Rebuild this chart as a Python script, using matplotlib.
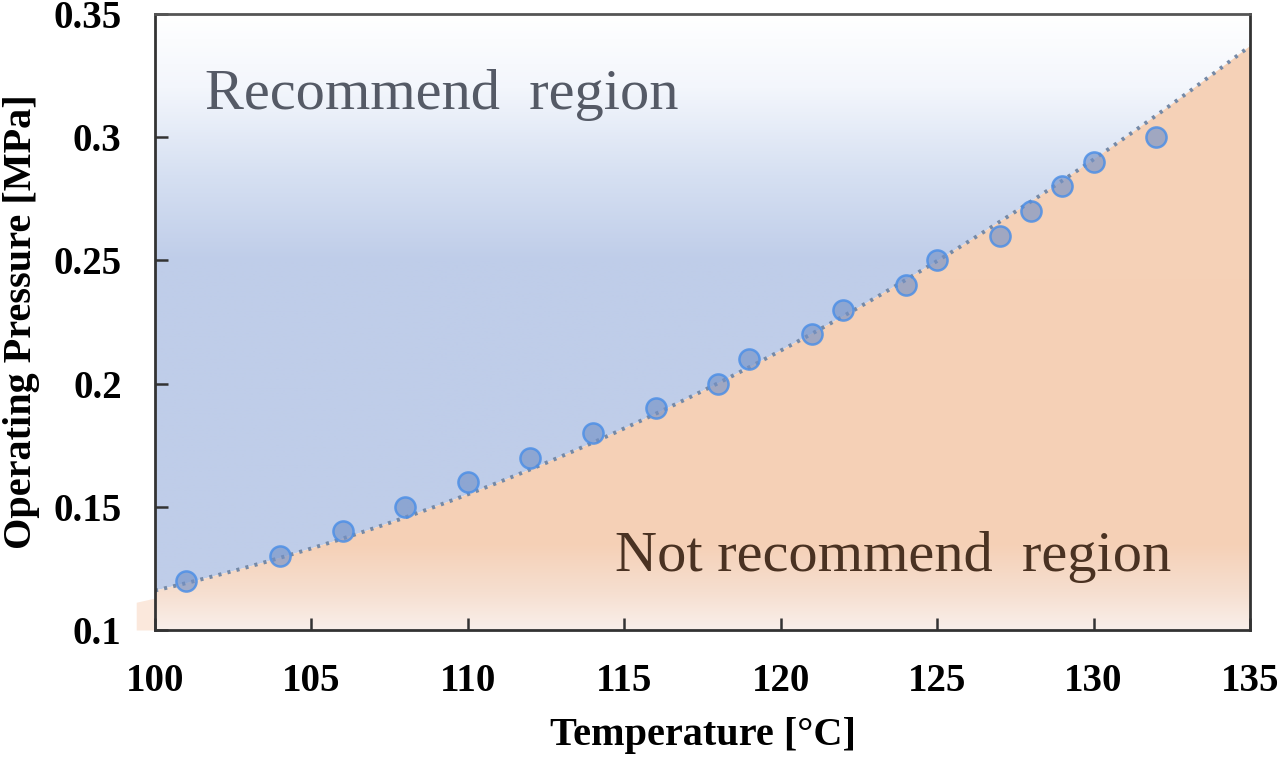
import numpy as np
import matplotlib
matplotlib.use("Agg")
import matplotlib.pyplot as plt
from matplotlib.patches import Polygon
from matplotlib.colors import to_rgb

temperature = [101, 104, 106, 108, 110, 112, 114, 116, 118, 119, 121, 122, 124, 125, 127, 128, 129, 130, 132]
pressure = [0.12, 0.13, 0.14, 0.15, 0.16, 0.17, 0.18, 0.19, 0.20, 0.21, 0.22, 0.23, 0.24, 0.25, 0.26, 0.27, 0.28, 0.29, 0.30]
x_ticks = [100, 105, 110, 115, 120, 125, 130, 135]
y_ticks = [0.1, 0.15, 0.2, 0.25, 0.3, 0.35]
y_tick_labels = ["0.1", "0.15", "0.2", "0.25", "0.3", "0.35"]
# dotted trend line: p = c0 + c1*(T-117.5) + c2*(T-117.5)^2
trend_center = 117.5
trend_coef = [0.197, 0.006314, 9.63e-5]

plt.rcParams['font.family'] = ['Liberation Serif', 'DejaVu Serif']

fig = plt.figure(figsize=(12.8, 7.57), dpi=100)
ax = fig.add_axes([155/1280, 1-630/757, 1095/1280, 616/757])


def trend(x):
    d = np.asarray(x) - trend_center
    return trend_coef[0] + trend_coef[1] * d + trend_coef[2] * d ** 2


xs = np.linspace(100, 135, 300)
ys = trend(xs)

ny = 400
yy = np.linspace(0.1, 0.35, ny)


def lerp_cols(stops, y):
    pos = [s[0] for s in stops]
    cols = np.array([to_rgb(s[1]) for s in stops])
    return np.stack([np.interp(y, pos, cols[:, i]) for i in range(3)], axis=-1)


blue_stops = [(0.1, '#bfcde9'), (0.25, '#bfcde9'), (0.285, '#d6e0f2'), (0.32, '#f3f6fc'), (0.35, '#ffffff')]
orange_stops = [(0.1, '#f9efea'), (0.115, '#f6dfd0'), (0.135, '#f5d0b6'), (0.35, '#f6d2b8')]

blue_img = lerp_cols(blue_stops, yy)[:, None, :].repeat(2, axis=1)
orange_img = lerp_cols(orange_stops, yy)[:, None, :].repeat(2, axis=1)

blue_poly = Polygon(np.vstack([np.column_stack([xs, ys]), [[135, 0.35], [100, 0.35]]]),
                    closed=True, transform=ax.transData, facecolor='none', edgecolor='none')
orange_poly = Polygon(np.vstack([np.column_stack([xs, ys]), [[135, 0.1], [100, 0.1]]]),
                      closed=True, transform=ax.transData, facecolor='none', edgecolor='none')

im_b = ax.imshow(blue_img, extent=[100, 135, 0.1, 0.35], origin='lower', aspect='auto', zorder=0,
                 interpolation='bilinear')
im_b.set_clip_path(blue_poly)
im_o = ax.imshow(orange_img, extent=[100, 135, 0.1, 0.35], origin='lower', aspect='auto', zorder=0,
                 interpolation='bilinear')
im_o.set_clip_path(orange_poly)

# small overflow of the lower region to the left of the axes
xo = np.linspace(99.4, 100, 10)
ax.fill_between(xo, 0.1, trend(xo) - 0.003, color='#fbe8dc', lw=0, clip_on=False, zorder=0)

ax.set_xlim(100, 135)
ax.set_ylim(0.1, 0.35)

ax.plot(xs, ys, linestyle=(0, (0.8, 1.6)), color='#7589a6', lw=2.8, zorder=2)

ax.plot(temperature, pressure, 'o', markersize=14.5, markerfacecolor=(0.45, 0.57, 0.78, 0.65),
        markeredgecolor=(0.30, 0.56, 0.90, 0.85), markeredgewidth=1.8, zorder=3, linestyle='none')

ax.text(101.6, 0.317, 'Recommend  region', fontsize=42, color='#555a66', va='center', ha='left')
ax.text(114.7, 0.1296, 'Not recommend  region', fontsize=42, color='#4a3222', va='center', ha='left')

for s in ['left', 'bottom', 'right', 'top']:
    ax.spines[s].set_linewidth(2.0)
    ax.spines[s].set_color('#333333')
ax.spines['top'].set_color('#555555')

ax.set_xticks(x_ticks)
ax.set_yticks(y_ticks)
ax.set_yticklabels(y_tick_labels)
ax.tick_params(direction='in', length=9, width=1.8, top=False, right=False,
               labelsize=28, pad=24, colors='#333333', labelcolor='black')
for lab in ax.get_xticklabels() + ax.get_yticklabels():
    lab.set_fontweight('bold')

ax.set_xlabel('Temperature [°C]', fontsize=29, fontweight='bold', labelpad=12)
ax.set_ylabel('Operating Pressure [MPa]', fontsize=29, fontweight='bold', labelpad=10)

fig.savefig('out.png', dpi=100)
